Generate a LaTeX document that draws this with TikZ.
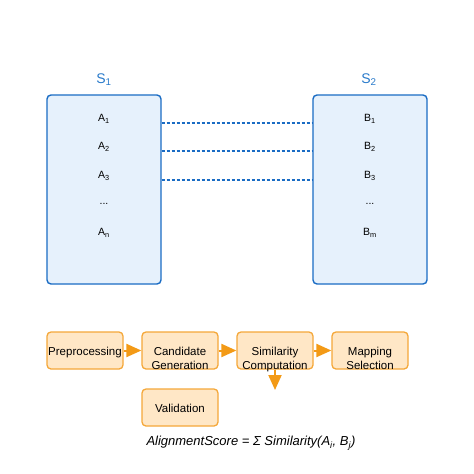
\documentclass[tikz,border=0pt]{standalone}
\usepackage{fontspec}
\setmainfont{Liberation Sans}
\usetikzlibrary{arrows.meta}
\definecolor{bord}{HTML}{1A6CC4}
\definecolor{bfill}{HTML}{E6F1FC}
\definecolor{slab}{HTML}{2A7BCB}
\definecolor{oborder}{HTML}{F5A83A}
\definecolor{ofill}{HTML}{FFE7C6}
\definecolor{oarrow}{HTML}{F39A16}
\tikzset{
  setbox/.style={draw=bord, fill=bfill, line width=1.4pt, rounded corners=4pt},
  setlabel/.style={text=slab, font=\fontsize{14}{16}\selectfont},
  item/.style={font=\fontsize{10.5}{12}\selectfont},
  link/.style={draw=bord, line width=1.1pt, dash pattern=on 3pt off 2pt},
  stepbox/.style={draw=oborder, fill=ofill, line width=1.3pt, rounded corners=4pt,
    minimum width=76pt, minimum height=37pt, inner sep=0pt},
  steptext/.style={align=center, inner sep=0pt, anchor=north,
    font=\fontsize{11.5}{14}\selectfont},
  flow/.style={draw=oarrow, line width=2pt, -{Triangle[length=15pt,width=13pt,fill=oarrow]}},
}
\begin{document}
\begin{tikzpicture}[x=1pt,y=-1pt]
\useasboundingbox (0,0) rectangle (474,474);
\fill[white] (0,0) rectangle (474,474);
% set boxes
\node[setbox, minimum width=114pt, minimum height=189pt, inner sep=0pt] (S1) at (104,189.5) {};
\node[setbox, minimum width=114pt, minimum height=189pt, inner sep=0pt] (S2) at (370,189.5) {};
\node[setlabel] (S1l) at (104,80) {S\textsubscript{1}};
\node[setlabel] (S2l) at (369,80) {S\textsubscript{2}};
% items
\node[item] (a1) at (104,119) {A\textsubscript{1}};
\node[item] (a2) at (104,147) {A\textsubscript{2}};
\node[item] (a3) at (104,176) {A\textsubscript{3}};
\node[item] (ad) at (104,204) {...};
\node[item] (an) at (104,233) {A\textsubscript{n}};
\node[item] (b1) at (370,119) {B\textsubscript{1}};
\node[item] (b2) at (370,147) {B\textsubscript{2}};
\node[item] (b3) at (370,176) {B\textsubscript{3}};
\node[item] (bd) at (370,204) {...};
\node[item] (bm) at (370,233) {B\textsubscript{m}};
% links
\draw[link] (S1.east |- 0,123) -- (S2.west |- 0,123);
\draw[link] (S1.east |- 0,151) -- (S2.west |- 0,151);
\draw[link] (S1.east |- 0,180) -- (S2.west |- 0,180);
% pipeline
\node[stepbox] (pre) at (85,350.5) {};
\node[stepbox] (cand) at (180,350.5) {};
\node[stepbox] (sim) at (275,350.5) {};
\node[stepbox] (map) at (370,350.5) {};
\node[stepbox] (val) at (180,407.5) {};
\node[steptext] (pret) at (85,347) {Preprocessing};
\node[steptext] (candt) at (180,347) {Candidate\\Generation};
\node[steptext] (simt) at (275,347) {Similarity\\Computation};
\node[steptext] (mapt) at (370,347) {Mapping\\Selection};
\node[steptext] (valt) at (180,403.5) {Validation};
\coordinate (down) at (275,390);
\draw[flow] (pre) -- (cand);
\draw[flow] (cand) -- (sim);
\draw[flow] (sim) -- (map);
\draw[flow] (sim) -- (down);
\node[font=\itshape\fontsize{13}{15}\selectfont] (formula) at (251,443)
  {AlignmentScore = Σ Similarity(A\textsubscript{i}, B\textsubscript{j})};
\end{tikzpicture}
\end{document}
